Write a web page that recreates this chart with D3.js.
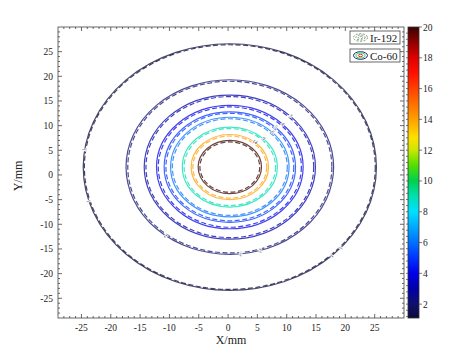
<!DOCTYPE html>
<html lang="en">
<head>
<meta charset="UTF-8">
<title>Isodose contours Co-60 / Ir-192</title>
<script src="https://d3js.org/d3.v7.min.js"></script>
<style>
  body { margin: 0; background: #fff; }
  svg { display: block; font-family: "Liberation Serif", "Times New Roman", serif; }
  .tick-label { font-size: 9.5px; fill: #222; }
  .axis-title { font-size: 12px; fill: #222; }
  .legend-text { font-size: 11px; fill: #222; }
  .clabel { font-size: 5px; fill: #333; }
</style>
</head>
<body>
<svg width="474" height="357"></svg>
<script>
// contour levels and the radius (mm) at which each level sits, per source
const levels   = [20, 14, 9, 6, 5, 4, 3, 2, 1];
const coRadius = [5.4, 6.6, 8.1, 10.1, 11.2, 12.5, 14.6, 17.7, 25.0];
const irRadius = [5.1, 6.3, 7.8, 9.8, 10.9, 12.2, 14.3, 17.4, 24.8];
const sourceCentre = [0.3, 1.6];

// small in-line contour labels: level and angle (deg) round the centre
const labelLevels = [1, 1, 1, 1, 2, 2, 2, 3, 4, 5, 6, 9, 14];
const labelAngles = [172, 196, -46, -41, 232, -84, -73, 45, 44, 46, 44, 45, 50];

const xTicks = [-25, -20, -15, -10, -5, 0, 5, 10, 15, 20, 25];
const yTicks = [-25, -20, -15, -10, -5, 0, 5, 10, 15, 20, 25];
const colorTicks = [2, 4, 6, 8, 10, 12, 14, 16, 18, 20];

// colour map of the colour bar
const cmapValues = [1.1, 2, 3, 4, 5, 6, 7, 8, 9, 10, 11, 12, 12.8, 14, 15, 16, 17, 18, 19, 20];
const cmapColors = ['#0b0b3b', '#10106e', '#0000a8', '#0000e8', '#0034ff', '#0070ff', '#00a8ff',
                    '#00e0ff', '#00e0b0', '#00d050', '#50e000', '#c8e800', '#ffe000', '#ffa000',
                    '#ff7000', '#ff4000', '#ff1000', '#e00000', '#900000', '#3a0500'];

const svg = d3.select('svg');
const plot = { left: 58, right: 404, top: 27, bottom: 318 };

const x = d3.scaleLinear().domain([-29, 30]).range([plot.left, plot.right]);
const y = d3.scaleLinear().domain([-29, 30]).range([plot.bottom, plot.top]);
const color = d3.scaleLinear().domain(cmapValues).range(cmapColors).clamp(true);

// contours: dashed Ir-192 drawn first, solid Co-60 on top
const rings = svg.append('g');
function drawRings(radii, dashed) {
  rings.selectAll(null)
    .data(levels.map((lv, i) => ({ level: lv, r: radii[i] })))
    .enter().append('ellipse')
    .attr('cx', x(sourceCentre[0]))
    .attr('cy', y(sourceCentre[1]))
    .attr('rx', d => x(sourceCentre[0] + d.r) - x(sourceCentre[0]))
    .attr('ry', d => y(sourceCentre[1]) - y(sourceCentre[1] + d.r))
    .attr('fill', 'none')
    .attr('stroke', d => color(d.level))
    .attr('stroke-opacity', 0.75)
    .attr('stroke-width', 1.2)
    .attr('stroke-dasharray', dashed ? '5,2.5' : null);
}
drawRings(irRadius, true);
drawRings(coRadius, false);

// contour labels
svg.append('g').selectAll('text')
  .data(labelLevels.map((lv, i) => ({ level: lv, a: labelAngles[i] * Math.PI / 180 })))
  .enter().append('text')
  .attr('class', 'clabel')
  .attr('text-anchor', 'middle')
  .attr('dominant-baseline', 'middle')
  .attr('stroke', '#fff').attr('stroke-width', 1.5).attr('paint-order', 'stroke')
  .attr('transform', d => {
    const r = coRadius[levels.indexOf(d.level)];
    const px = x(sourceCentre[0] + r * Math.cos(d.a));
    const py = y(sourceCentre[1] + r * Math.sin(d.a));
    return `translate(${px},${py}) rotate(${-d.a * 180 / Math.PI + 90})`;
  })
  .text(d => d.level);

// frame and ticks on all four sides, pointing inward
svg.append('rect')
  .attr('x', plot.left).attr('y', plot.top)
  .attr('width', plot.right - plot.left).attr('height', plot.bottom - plot.top)
  .attr('fill', 'none').attr('stroke', '#444').attr('stroke-width', 0.8);

const minorX = d3.range(-28, 30, 1);
const minorY = d3.range(-28, 30, 1);
const ticks = svg.append('g').attr('stroke', '#444').attr('stroke-width', 0.8);
minorX.forEach(v => {
  const len = xTicks.includes(v) ? 4 : 2;
  ticks.append('line').attr('x1', x(v)).attr('x2', x(v)).attr('y1', plot.bottom).attr('y2', plot.bottom - len);
  ticks.append('line').attr('x1', x(v)).attr('x2', x(v)).attr('y1', plot.top).attr('y2', plot.top + len);
});
minorY.forEach(v => {
  const len = yTicks.includes(v) ? 4 : 2;
  ticks.append('line').attr('y1', y(v)).attr('y2', y(v)).attr('x1', plot.left).attr('x2', plot.left + len);
  ticks.append('line').attr('y1', y(v)).attr('y2', y(v)).attr('x1', plot.right).attr('x2', plot.right - len);
});

svg.append('g').selectAll('text')
  .data(xTicks).enter().append('text')
  .attr('class', 'tick-label')
  .attr('x', d => x(d)).attr('y', plot.bottom + 13)
  .attr('text-anchor', 'middle')
  .text(d => d);

svg.append('g').selectAll('text')
  .data(yTicks).enter().append('text')
  .attr('class', 'tick-label')
  .attr('x', plot.left - 5).attr('y', d => y(d) + 3.5)
  .attr('text-anchor', 'end')
  .text(d => d);

svg.append('text').attr('class', 'axis-title')
  .attr('x', 231).attr('y', 344).attr('text-anchor', 'middle').text('X/mm');
svg.append('text').attr('class', 'axis-title')
  .attr('transform', 'translate(22,176) rotate(-90)').attr('text-anchor', 'middle').text('Y/mm');

// legend
const legend = svg.append('g');
const legendItems = [
  { name: 'Ir-192', dashed: true, y: 31 },
  { name: 'Co-60', dashed: false, y: 49 }
];
legendItems.forEach(it => {
  const g = legend.append('g').attr('transform', `translate(350,${it.y})`);
  g.append('rect').attr('width', 50).attr('height', 13)
    .attr('fill', '#fff').attr('stroke', '#444').attr('stroke-width', 0.8);
  [[7, 3.8, color(2)], [4.6, 2.5, color(10)], [2.2, 1.2, color(17)]].forEach(e => {
    g.append('ellipse').attr('cx', 10.5).attr('cy', 6.5).attr('rx', e[0]).attr('ry', e[1])
      .attr('fill', 'none').attr('stroke', it.dashed ? '#6a8a6a' : e[2]).attr('stroke-width', 0.9)
      .attr('stroke-dasharray', it.dashed ? '2,1.5' : null);
  });
  g.append('text').attr('class', 'legend-text').attr('x', 20).attr('y', 10.5).text(it.name);
});

// colour bar
const cb = { left: 408, width: 11 };
const cy = d3.scaleLinear().domain([1.1, 20]).range([plot.bottom, plot.top]);
const grad = svg.append('defs').append('linearGradient')
  .attr('id', 'cbar').attr('x1', 0).attr('x2', 0).attr('y1', 1).attr('y2', 0);
grad.selectAll('stop').data(cmapValues).enter().append('stop')
  .attr('offset', d => (d - 1.1) / (20 - 1.1))
  .attr('stop-color', d => color(d));
svg.append('rect')
  .attr('x', cb.left).attr('y', plot.top).attr('width', cb.width).attr('height', plot.bottom - plot.top)
  .attr('fill', 'url(#cbar)').attr('stroke', '#333').attr('stroke-width', 0.8);

const cbTicks = svg.append('g').attr('stroke', '#444').attr('stroke-width', 0.7);
d3.range(1.2, 20, 0.4).forEach(v => {
  cbTicks.append('line').attr('x1', cb.left - 2).attr('x2', cb.left).attr('y1', cy(v)).attr('y2', cy(v));
});
colorTicks.forEach(v => {
  cbTicks.append('line').attr('x1', cb.left + cb.width).attr('x2', cb.left + cb.width + 3)
    .attr('y1', cy(v)).attr('y2', cy(v));
});
svg.append('g').selectAll('text')
  .data(colorTicks).enter().append('text')
  .attr('class', 'tick-label')
  .attr('x', cb.left + cb.width + 4).attr('y', d => cy(d) + 3.5)
  .text(d => d);
</script>
</body>
</html>
